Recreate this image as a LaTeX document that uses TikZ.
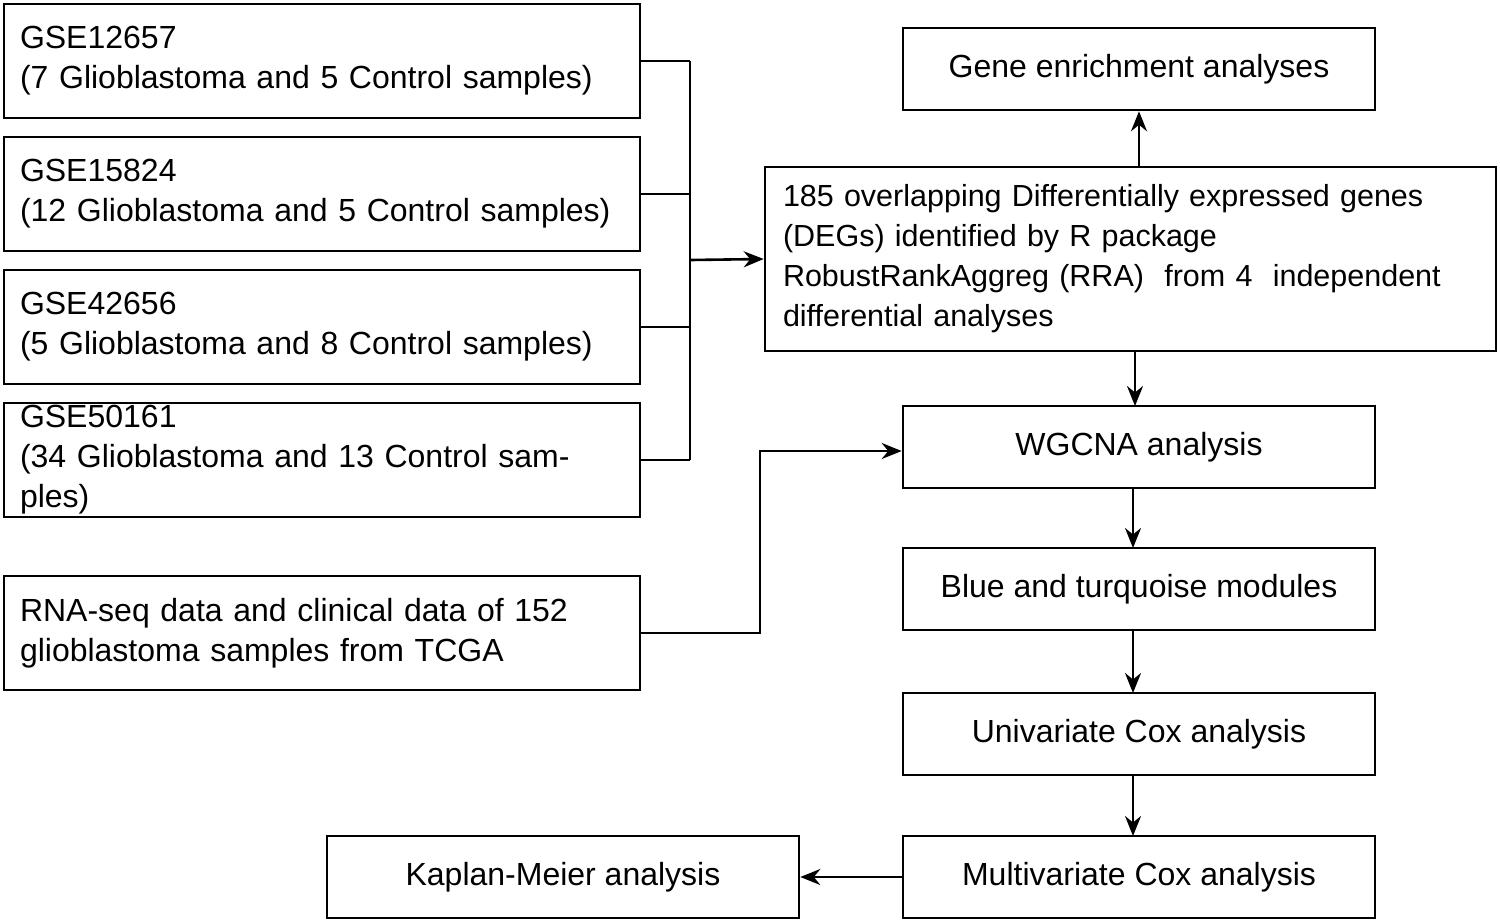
\documentclass[tikz,border=0pt]{standalone}
\usepackage{fontspec}
\setmainfont{Liberation Sans}
\usetikzlibrary{arrows.meta}
\begin{document}
\begin{tikzpicture}[x=1pt,y=-1pt,
 box/.style={draw,line width=2.6pt,minimum height=#1,inner sep=0pt,font=\fontsize{32}{40}\selectfont},
 lbox/.style={box=114,align=left,text width=604,minimum width=636},
 cbox/.style={box=82,minimum width=472},
 ln/.style={line width=2.6pt},
 ar/.style={ln,-{Stealth[length=20,width=16]}}]
\useasboundingbox (0,0) rectangle (1500,922);
\node[lbox] (g1) at (322,61) {GSE12657\\(7 Glioblastoma and 5 Control samples)};
\node[lbox] (g2) at (322,194) {GSE15824\\(12 Glioblastoma and 5 Control samples)};
\node[lbox] (g3) at (322,327) {GSE42656\\(5 Glioblastoma and 8 Control samples)};
\node[lbox] (g4) at (322,460) {GSE50161\\(34 Glioblastoma and 13 Control samples)};
\node[lbox] (rna) at (322,633) {RNA-seq data and clinical data of 152\\glioblastoma samples from TCGA};
\node[cbox] (ge) at (1139,69) {Gene enrichment analyses};
\node[box=184,minimum width=731,text width=695,align=left,font=\fontsize{30.5}{40}\selectfont] (deg) at (1130.5,259) {185 overlapping Differentially expressed genes\\(DEGs) identified by R package\\RobustRankAggreg (RRA)\ \ from 4\ \ independent\\differential analyses};
\node[cbox] (wg) at (1139,447) {WGCNA analysis\hspace{40pt}};
\node[cbox] (bl) at (1139,589) {Blue and turquoise modules};
\node[cbox] (uc) at (1139,734) {Univariate Cox analysis};
\node[cbox] (mc) at (1139,877) {Multivariate Cox analysis};
\node[cbox] (km) at (563,877) {Kaplan-Meier analysis};
\coordinate (j) at (690,260);
\foreach \g in {g1,g2,g3,g4}{\draw[ln] (\g.east) -- (\g.east -| j);}
\draw[ln] (g1.east -| j) -- (g4.east -| j);
\draw[ar] (j) -- (deg.west);
\draw[ar] (rna.east) -- (760,633) -- (760,451) -- (wg.west |- 0,451);
\draw[ar] (1139,167) -- (ge.south);
\draw[ar] (1135,351) -- (1135,406);
\draw[ar] (1133,488) -- (1133,548);
\draw[ar] (1133,630) -- (1133,693);
\draw[ar] (1133,775) -- (1133,836);
\draw[ar] (mc.west) -- (km.east);
\end{tikzpicture}
\end{document}
